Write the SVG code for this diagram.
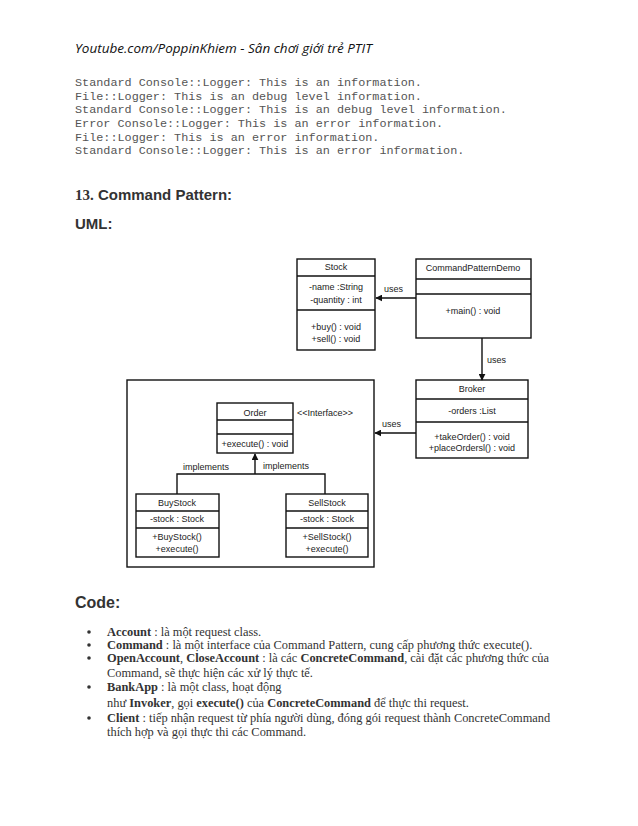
<svg xmlns="http://www.w3.org/2000/svg" width="638" height="826" viewBox="0 0 638 826">
<defs>
<style>
.box{fill:#fff;stroke:#111;stroke-width:1.4}
.ln{stroke:#111;stroke-width:1.4;fill:none}
.u{font-family:"Liberation Sans",Arial,sans-serif;font-size:9px;fill:#222;text-anchor:middle}
.ul{font-family:"Liberation Sans",Arial,sans-serif;font-size:9px;fill:#222}
.mono{font-family:"Liberation Mono","Courier New",monospace;font-size:11.8px;fill:#555}
.body{font-family:"Liberation Serif","Times New Roman",serif;font-size:12.4px;fill:#333}
.h{font-family:"Liberation Sans",Arial,sans-serif;font-weight:bold;fill:#333}
</style>
<marker id="ar" viewBox="0 0 10 10" refX="9" refY="5" markerWidth="7" markerHeight="7" orient="auto-start-reverse" markerUnits="userSpaceOnUse">
<path d="M0,0 L10,5 L0,10 z" fill="#111"/>
</marker>
</defs>
<rect width="638" height="826" fill="#fff"/>

<text x="75" y="53" font-family="Open Sans, Liberation Sans, sans-serif" font-style="italic" font-size="13.5" fill="#111" textLength="297" lengthAdjust="spacingAndGlyphs">Youtube.com/PoppinKhiem - Sân chơi giới trẻ PTIT</text>

<g id="console">
<text class="mono" x="75" y="86">Standard Console::Logger: This is an information.</text>
<text class="mono" x="75" y="100">File::Logger: This is an debug level information.</text>
<text class="mono" x="75" y="113">Standard Console::Logger: This is an debug level information.</text>
<text class="mono" x="75" y="127">Error Console::Logger: This is an error information.</text>
<text class="mono" x="75" y="141">File::Logger: This is an error information.</text>
<text class="mono" x="75" y="154">Standard Console::Logger: This is an error information.</text>
</g>

<text x="75" y="200" font-size="15"><tspan font-family="Liberation Serif, Times New Roman, serif" font-weight="bold" fill="#333">13.</tspan><tspan class="h"> Command Pattern:</tspan></text>
<text class="h" x="75" y="229" font-size="15">UML:</text>

<g id="outer">
<rect class="box" x="127" y="380" width="247" height="187"/>
</g>

<g id="Stock">
<rect class="box" x="297" y="259" width="78" height="91"/>
<line class="ln" x1="297" y1="276" x2="375" y2="276"/>
<line class="ln" x1="297" y1="310" x2="375" y2="310"/>
<text class="u" x="336" y="270">Stock</text>
<text class="u" x="336" y="290">-name :String</text>
<text class="u" x="336" y="303">-quantity : int</text>
<text class="u" x="336" y="330">+buy() : void</text>
<text class="u" x="336" y="342">+sell() : void</text>
</g>

<g id="CommandPatternDemo">
<rect class="box" x="416" y="259" width="115" height="79"/>
<line class="ln" x1="416" y1="279" x2="531" y2="279"/>
<line class="ln" x1="416" y1="294" x2="531" y2="294"/>
<text class="u" x="473" y="271">CommandPatternDemo</text>
<text class="u" x="473" y="314">+main() : void</text>
</g>

<g id="Broker">
<rect class="box" x="416" y="380" width="112" height="78"/>
<line class="ln" x1="416" y1="399" x2="528" y2="399"/>
<line class="ln" x1="416" y1="422" x2="528" y2="422"/>
<text class="u" x="472" y="392">Broker</text>
<text class="u" x="472" y="414">-orders :List</text>
<text class="u" x="472" y="440">+takeOrder() : void</text>
<text class="u" x="472" y="451">+placeOrdersl() : void</text>
</g>

<g id="Order">
<rect class="box" x="217" y="403" width="76" height="50"/>
<line class="ln" x1="217" y1="420" x2="293" y2="420"/>
<line class="ln" x1="217" y1="434" x2="293" y2="434"/>
<text class="u" x="255" y="416">Order</text>
<text class="u" x="255" y="447">+execute() : void</text>
<text class="ul" x="297" y="416">&lt;&lt;Interface&gt;&gt;</text>
</g>

<g id="BuyStock">
<rect class="box" x="136" y="494" width="83" height="63"/>
<line class="ln" x1="136" y1="511" x2="219" y2="511"/>
<line class="ln" x1="136" y1="528" x2="219" y2="528"/>
<text class="u" x="177" y="506">BuyStock</text>
<text class="u" x="177" y="522">-stock : Stock</text>
<text class="u" x="177" y="540">+BuyStock()</text>
<text class="u" x="177" y="552">+execute()</text>
</g>

<g id="SellStock">
<rect class="box" x="286" y="494" width="82" height="63"/>
<line class="ln" x1="286" y1="511" x2="368" y2="511"/>
<line class="ln" x1="286" y1="528" x2="368" y2="528"/>
<text class="u" x="327" y="506">SellStock</text>
<text class="u" x="327" y="522">-stock : Stock</text>
<text class="u" x="327" y="540">+SellStock()</text>
<text class="u" x="327" y="552">+execute()</text>
</g>

<g id="connectors">
<line class="ln" x1="416" y1="298" x2="376" y2="298" marker-end="url(#ar)"/>
<text class="ul" x="384" y="292">uses</text>
<line class="ln" x1="482" y1="338" x2="482" y2="380" marker-end="url(#ar)"/>
<text class="ul" x="487" y="363">uses</text>
<line class="ln" x1="416" y1="433" x2="375" y2="433" marker-end="url(#ar)"/>
<text class="ul" x="382" y="427">uses</text>
<polyline class="ln" points="177,494 177,474 325,474 325,494"/>
<line class="ln" x1="255" y1="474" x2="255" y2="454" marker-end="url(#ar)"/>
<text class="ul" x="183" y="470">implements</text>
<text class="ul" x="263" y="469">implements</text>
</g>

<text class="h" x="75" y="608" font-size="16">Code:</text>

<g id="bullets">
<g fill="#333"><circle cx="89" cy="632" r="1.8"/><circle cx="89" cy="645" r="1.8"/><circle cx="89" cy="658" r="1.8"/><circle cx="89" cy="687" r="1.8"/><circle cx="89" cy="718" r="1.8"/></g>
<text class="body" x="107" y="636"><tspan font-weight="bold">Account</tspan> : là một request class.</text>
<text class="body" x="107" y="649"><tspan font-weight="bold">Command</tspan> : là một interface của Command Pattern, cung cấp phương thức execute().</text>
<text class="body" x="107" y="662"><tspan font-weight="bold">OpenAccount</tspan>, <tspan font-weight="bold">CloseAccount</tspan> : là các <tspan font-weight="bold">ConcreteCommand</tspan>, cài đặt các phương thức của</text>
<text class="body" x="107" y="677">Command, sẽ thực hiện các xử lý thực tế.</text>
<text class="body" x="107" y="691"><tspan font-weight="bold">BankApp</tspan> : là một class, hoạt động</text>
<text class="body" x="107" y="707">như <tspan font-weight="bold">Invoker</tspan>, gọi <tspan font-weight="bold">execute()</tspan> của <tspan font-weight="bold">ConcreteCommand</tspan> để thực thi request.</text>
<text class="body" x="107" y="722"><tspan font-weight="bold">Client</tspan> : tiếp nhận request từ phía người dùng, đóng gói request thành ConcreteCommand</text>
<text class="body" x="107" y="736">thích hợp và gọi thực thi các Command.</text>
</g>
</svg>
